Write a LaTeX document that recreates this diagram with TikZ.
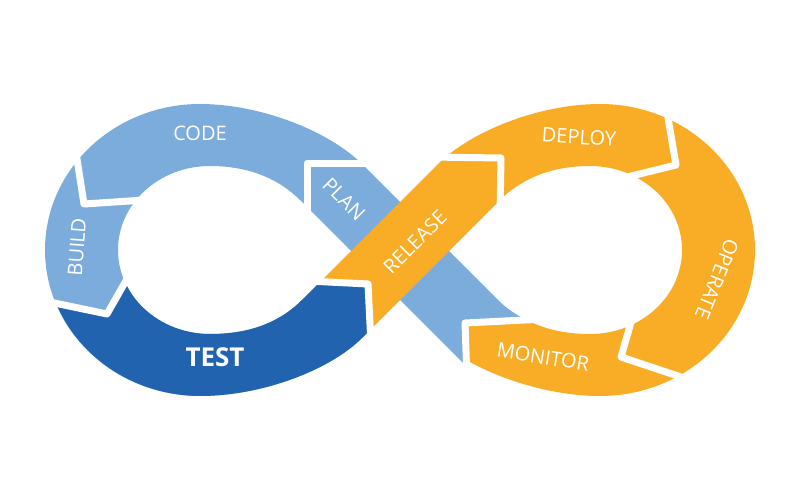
\documentclass[tikz,border=0pt]{standalone}
\usepackage{fontspec}
\setmainfont{Open Sans}
\definecolor{devblue}{HTML}{7BACDC}
\definecolor{devnavy}{HTML}{2163AE}
\definecolor{devorange}{HTML}{F9AD26}

\begin{document}
\begin{tikzpicture}[
  x=1pt, y=1pt, yscale=-1,
  font=\fontsize{20}{24}\selectfont,
  gap/.style={draw=white, line width=7pt, line join=round},
  lbl/.style={text=white, inner sep=0pt},
]
\useasboundingbox (0,0) rectangle (800,500);
% blue band: left loop and plan diagonal
\fill[devblue] (362,164) -- (498,300) .. controls (506,308) and (516,315) .. (527,320)
  -- (465,323) -- (465,365) -- (300,200) .. controls (281,181) and (252,166) .. (210,166)
  arc[start angle=-90, end angle=-270, x radius=92pt, y radius=84pt]
  .. controls (252,334) and (281,321) .. (302,300) -- (320,282) -- (368,284) -- (370,330)
  -- (362,338) .. controls (330,370) and (262,396) .. (200,396)
  arc[start angle=90, end angle=270, x radius=155pt, y radius=146pt]
  .. controls (262,104) and (330,132) .. (362,164) -- cycle;
% test segment
\fill[devnavy] (107,314) -- (56,303)
  arc[start angle=158.7, end angle=90, x radius=155pt, y radius=146pt]
  .. controls (262,396) and (330,370) .. (362,338) -- (370,330) -- (368,284) -- (320,282)
  -- (302,300) .. controls (281,321) and (252,334) .. (210,334)
  arc[start angle=90, end angle=157.6, x radius=92pt, y radius=84pt] -- cycle;
% orange band: release diagonal and right loop
\fill[devorange] (320,282) -- (368,284) -- (370,330) -- (500,200)
  .. controls (519,181) and (548,166) .. (590,166)
  arc[start angle=-90, end angle=90, x radius=92pt, y radius=84pt]
  .. controls (565,334) and (544,329) .. (527,320) -- (465,323) -- (468,361)
  .. controls (504,381) and (554,396) .. (600,396)
  arc[start angle=90, end angle=-90, x radius=155pt, y radius=146pt]
  .. controls (538,104) and (470,132) .. (438,164) -- cycle;
% gaps between the segments
\draw[gap] (372,163) -- (307,163) -- (307,215);
\draw[gap] (74,140) -- (84,204) -- (145,200);
\draw[gap] (40,300) -- (107,314) -- (135,265);
\draw[gap] (308,281) -- (368,284) -- (371,345);
\draw[gap] (430,157) -- (501,158) -- (500,215);
\draw[gap] (665,100) -- (676,165) -- (615,180);
\draw[gap] (636,305) -- (621,357) -- (690,380);
\draw[gap] (545,319) -- (465,323) -- (467,380);
% labels
\node[lbl] (code) at (200,133) {CODE};
\node[lbl, rotate=86] (build) at (77,247) {BUILD};
\node[lbl, font=\bfseries\fontsize{26}{30}\selectfont] (test) at (215,357) {TEST};
\node[lbl, rotate=-45] (plan) at (344,199) {PLAN};
\node[lbl, rotate=45] (release) at (415,242) {RELEASE};
\node[lbl, rotate=-4] (deploy) at (579,137) {DEPLOY};
\node[lbl, rotate=-112] (operate) at (717,279) {OPERATE};
\node[lbl, rotate=-9] (monitor) at (543,357) {MONITOR};
\end{tikzpicture}
\end{document}
